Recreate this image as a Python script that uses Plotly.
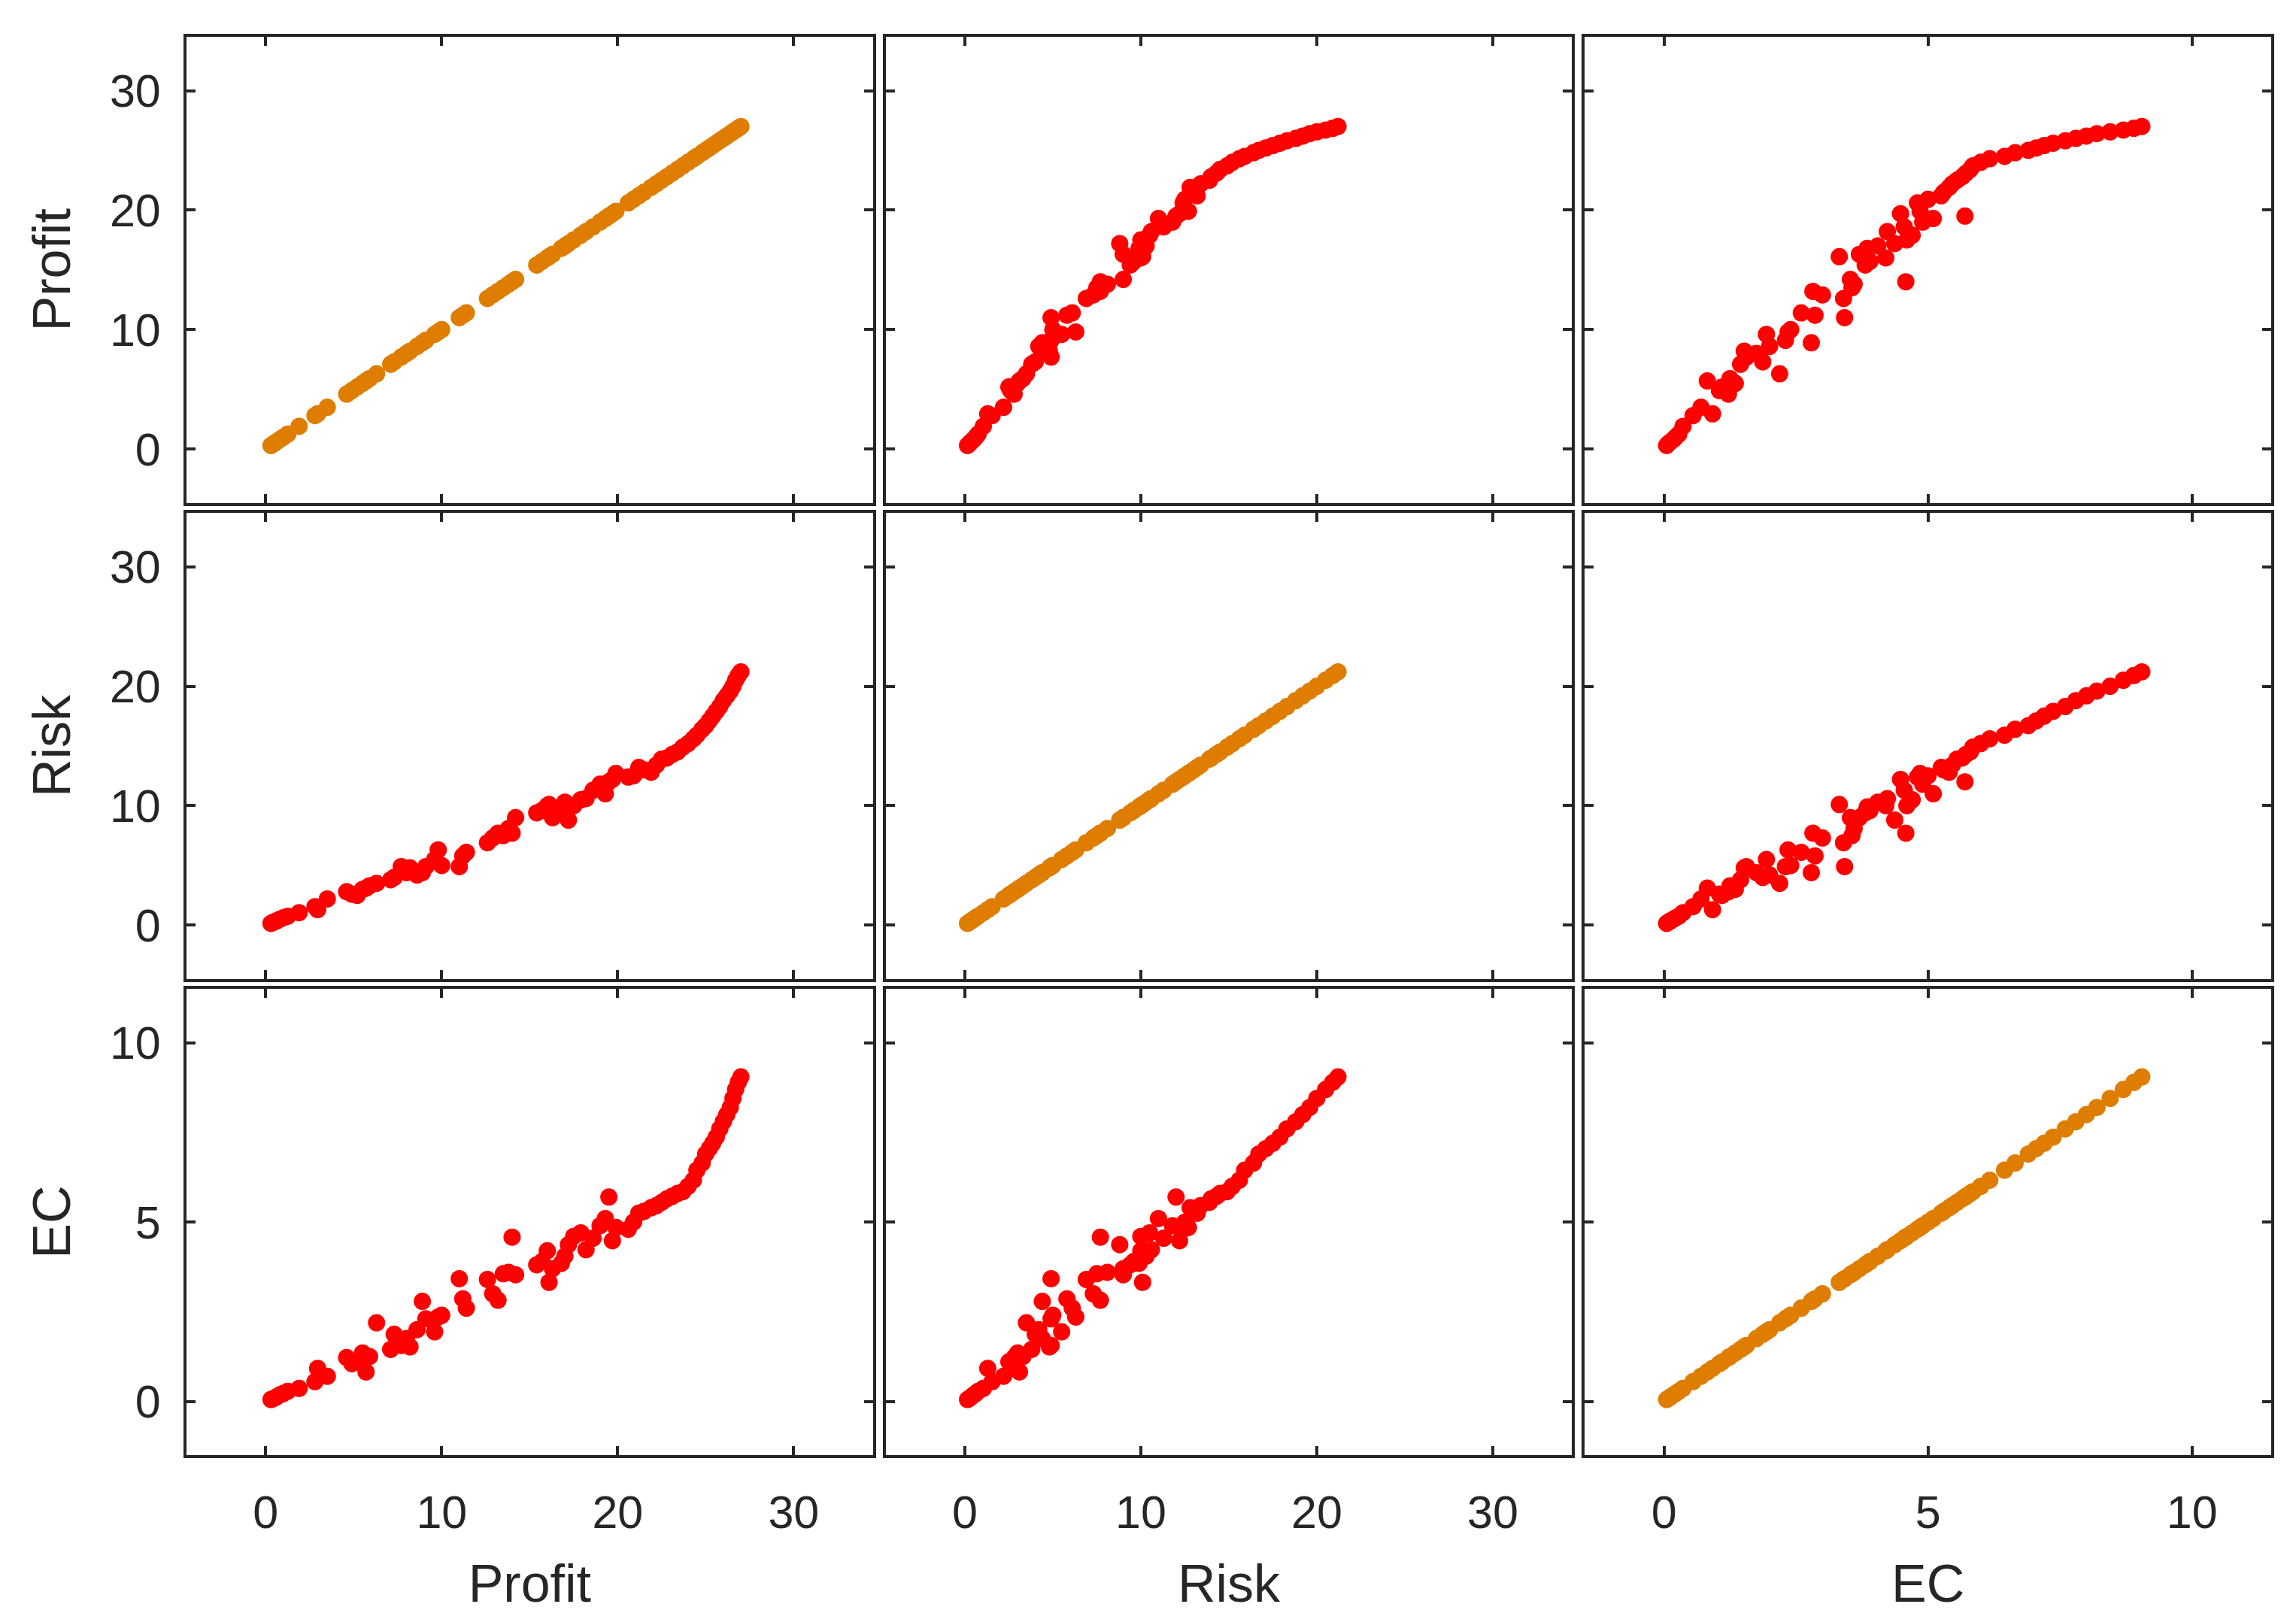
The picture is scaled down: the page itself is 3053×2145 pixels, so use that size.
import plotly.graph_objects as go
from plotly.subplots import make_subplots

# one entry per solution: profit, risk and EC
profit = [0.30, 0.45, 0.60, 0.80, 1.00, 1.25, 1.90, 2.80, 2.95, 3.50,
          4.60, 4.90, 5.20, 5.50, 5.70, 5.90, 6.30, 7.10, 7.30, 7.70,
          8.00, 8.20, 8.60, 8.90, 9.10, 9.60, 9.80, 10.0, 11.0, 11.2,
          11.4, 12.6, 12.9, 13.2, 13.5, 13.8, 14.0, 14.2, 15.4, 15.7,
          16.0, 16.1, 16.3, 16.8, 17.0, 17.2, 17.5, 17.9, 18.2, 18.6,
          19.0, 19.3, 19.5, 19.7, 19.9, 20.6, 20.9, 21.2, 21.5, 21.9,
          22.2, 22.5, 22.8, 23.1, 23.4, 23.7, 24.0, 24.3, 24.5, 24.8,
          25.0, 25.2, 25.4, 25.6, 25.8, 26.0, 26.2, 26.4, 26.55, 26.7,
          26.85, 27.0]
risk = [0.15, 0.25, 0.35, 0.50, 0.62, 0.75, 1.05, 1.55, 1.30, 2.20,
        2.80, 2.60, 2.50, 3.00, 3.10, 3.30, 3.50, 3.80, 4.00, 4.90,
        4.40, 4.80, 4.20, 4.40, 4.90, 5.50, 6.30, 5.00, 4.90, 5.80,
        6.10, 6.90, 7.30, 7.70, 7.50, 8.10, 7.70, 9.00, 9.40, 9.60,
        10.0, 10.1, 9.00, 9.90, 10.3, 8.80, 10.0, 10.5, 10.6, 11.3,
        11.8, 11.0, 12.0, 12.2, 12.7, 12.4, 12.5, 13.2, 13.0, 12.8,
        13.4, 13.9, 14.0, 14.3, 14.5, 14.9, 15.2, 15.6, 15.9, 16.4,
        16.7, 17.1, 17.5, 17.9, 18.3, 18.8, 19.2, 19.6, 20.0, 20.5,
        20.9, 21.2]
ec = [0.05, 0.08, 0.12, 0.18, 0.22, 0.28, 0.36, 0.55, 0.92, 0.70,
      1.22, 1.05, 1.10, 1.35, 0.82, 1.25, 2.19, 1.45, 1.87, 1.56,
      1.75, 1.52, 2.00, 2.79, 2.30, 1.94, 2.35, 2.40, 3.42, 2.86,
      2.60, 3.40, 3.00, 2.82, 3.56, 3.60, 4.58, 3.53, 3.81, 3.90,
      4.20, 3.32, 3.70, 3.85, 4.05, 4.37, 4.60, 4.70, 4.23, 4.55,
      4.90, 5.10, 5.70, 4.48, 4.85, 4.80, 5.00, 5.25, 5.30, 5.40,
      5.46, 5.55, 5.65, 5.72, 5.80, 5.85, 6.00, 6.17, 6.45, 6.65,
      6.90, 7.05, 7.20, 7.37, 7.60, 7.80, 8.00, 8.20, 8.45, 8.70,
      8.90, 9.05]

names = ['Profit', 'Risk', 'EC']
columns = [profit, risk, ec]
ranges = [[-4.5, 34.5], [-4.5, 34.5], [-1.5, 11.5]]
dticks = [10, 10, 5]

INK = '#262626'
FONT = 'Liberation Sans'

fig = make_subplots(rows=3, cols=3,
                    horizontal_spacing=17 / 2772, vertical_spacing=13.5 / 1886)

for i in range(3):
    for j in range(3):
        colour = '#DE7D00' if i == j else '#FF0000'
        fig.add_trace(go.Scatter(x=columns[j], y=columns[i], mode='markers',
                                 marker=dict(size=23, color=colour),
                                 showlegend=False),
                      row=i + 1, col=j + 1)
        common = dict(showgrid=False, zeroline=False, showline=True,
                      linecolor=INK, linewidth=4, mirror='ticks',
                      ticks='inside', ticklen=12, tickwidth=4, tickcolor=INK,
                      tickfont=dict(family=FONT, size=61, color=INK))
        fig.update_xaxes(range=ranges[j], dtick=dticks[j], tick0=0,
                         showticklabels=(i == 2), ticklabelstandoff=20,
                         title=dict(text=names[j] if i == 2 else '', standoff=38,
                                    font=dict(family=FONT, size=70, color=INK)),
                         row=i + 1, col=j + 1, **common)
        fig.update_yaxes(range=ranges[i], dtick=dticks[i], tick0=0,
                         showticklabels=(j == 0), ticklabelstandoff=18,
                         title=dict(text=names[i] if j == 0 else '', standoff=30,
                                    font=dict(family=FONT, size=70, color=INK)),
                         row=i + 1, col=j + 1, **common)

fig.update_layout(width=3053, height=2145, plot_bgcolor='white',
                  paper_bgcolor='white',
                  margin=dict(l=240, r=41, t=41, b=218))
fig.write_html('out.html')
